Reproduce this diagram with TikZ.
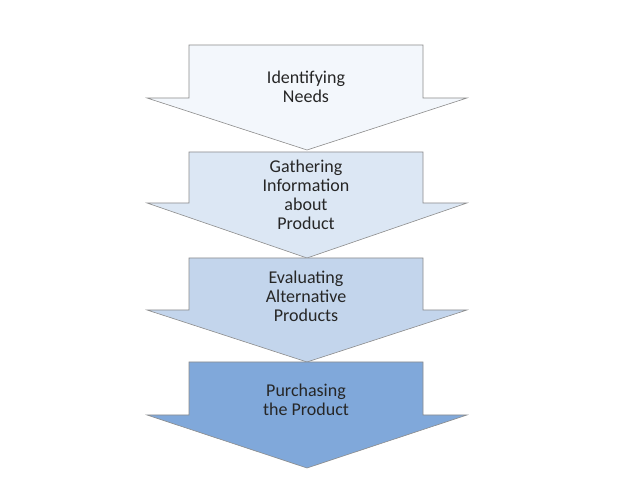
\documentclass[tikz,border=0pt]{standalone}
\usepackage{fontspec}
\setmainfont{Carlito}
\begin{document}
\begin{tikzpicture}[x=1pt,y=-1pt,
  blk/.style={draw=black!45,line width=0.6pt},
  lbl/.style={align=center,font=\fontsize{18}{19}\selectfont,text=black!85}]
\useasboundingbox[fill=white] (0,0) rectangle (638,478);
\definecolor{c1}{HTML}{F3F7FC}
\definecolor{c2}{HTML}{DCE7F4}
\definecolor{c3}{HTML}{C3D5EC}
\definecolor{c4}{HTML}{80A8DA}
\foreach \t/\s/\b/\c in {45/98/150/c1,152/203/258/c2,258/310/362/c3,362/415/468/c4}{
  \draw[blk,fill=\c] (189,\t) -- (423,\t) -- (423,\s) -- (467,\s) -- (307,\b) -- (147,\s) -- (189,\s) -- cycle;
}
\node[lbl] (n1) at (306,87) {Identifying\\Needs};
\node[lbl] (n2) at (306,195) {Gathering\\Information\\about\\Product};
\node[lbl] (n3) at (306,296) {Evaluating\\Alternative\\Products};
\node[lbl] (n4) at (306,400) {Purchasing\\the Product};
\end{tikzpicture}
\end{document}
